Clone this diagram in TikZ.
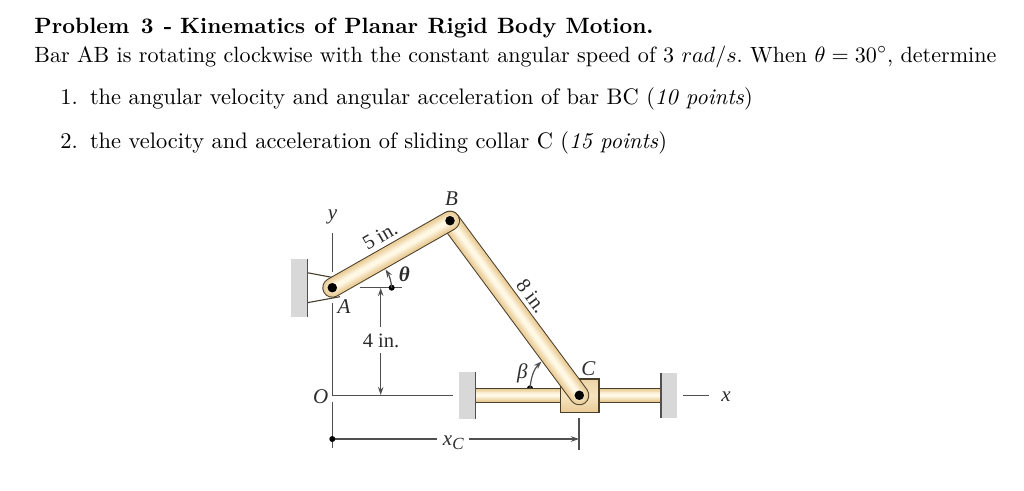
\documentclass[tikz,border=0pt]{standalone}
\usepackage{fontspec}
\usetikzlibrary{arrows.meta}
\newfontfamily\figfont{Liberation Serif}
\definecolor{barline}{RGB}{72,62,44}
\definecolor{bartan}{RGB}{234,204,150}
\definecolor{barlight}{RGB}{255,248,228}
\definecolor{wallgray}{RGB}{216,216,216}
\definecolor{dimgray}{RGB}{80,80,80}
\definecolor{figtext}{RGB}{45,45,45}
\newcommand{\gradbar}[4]{%
  \draw[line width=#3pt,color=barline,line cap=#4] #1 -- #2;
  \foreach \f/\m in {0.90/0,0.80/12,0.70/25,0.60/40,0.50/55,0.40/70,0.30/85,0.20/100}{%
    \draw[line width={#3*\f*1pt},color=barlight!\m!bartan,line cap=#4] #1 -- #2;}%
}
\tikzset{
  wall/.style={fill=wallgray,draw=none},
  walledge/.style={draw=dimgray,line width=1.5pt},
  dimline/.style={draw=dimgray,line width=1.2pt},
  dimarrow/.style={dimline,-{Stealth[length=8pt,width=5.5pt,fill=black]}},
  pin/.style={circle,fill=black,inner sep=0pt,minimum size=#1},
  figlabel/.style={font=\figfont\fontsize{20.5}{22}\selectfont,text=figtext,inner sep=0pt},
  figital/.style={font=\figfont\itshape\fontsize{21}{22}\selectfont,text=figtext,inner sep=0pt},
  prose/.style={anchor=base west,inner sep=0pt,text=black},
}
\begin{document}
\begin{tikzpicture}[x=1pt,y=-1pt]
\useasboundingbox[fill=white] (0,0) rectangle (1024,490);
% text
\node[prose,scale=2.217] (title) at (34,33) {\bfseries\spaceskip=4.2pt Problem\hspace{5.2pt}3\hspace{4.6pt}-\hspace{3.6pt}Kinematics of Planar Rigid Body Motion.};
\node[prose,scale=2.208] (line) at (34,62) {Bar AB is rotating clockwise with the constant angular speed of 3 $rad/s$.\ When $\theta=30^\circ$, determine};
\node[prose,scale=2.245] (itema) at (60,104) {1.\hspace{5.4pt}the angular velocity and angular acceleration of bar BC (\textit{10 points})};
\node[prose,scale=2.245] (itemb) at (60,148) {2.\hspace{5.4pt}the velocity and acceleration of sliding collar C (\textit{15 points})};
% key points
\coordinate (A) at (332.3,287.7);
\coordinate (B) at (450,220.7);
\coordinate (C) at (579.3,395.3);
\coordinate (O) at (332.3,395.3);
\coordinate (yt) at (332.3,233.3);
\coordinate (yu) at (332.3,272);
\coordinate (yl) at (332.3,303.3);
\coordinate (yb) at (332.3,401.7);
\coordinate (yend) at (332.3,448.3);
\coordinate (Oe) at (453.3,395.3);
\coordinate (xd) at (332.3,439);
\coordinate (xa) at (436.7,439);
\coordinate (xb) at (469.3,439);
\coordinate (xc) at (579,439);
\coordinate (tt) at (579,417.7);
\coordinate (tb) at (579,450);
\coordinate (hl) at (360,287.7);
\coordinate (hr) at (402.3,287.7);
\coordinate (d1) at (380.7,327.3);
\coordinate (d1e) at (380.7,288);
\coordinate (d2) at (380.7,353.3);
\coordinate (d2e) at (380.7,395);
\coordinate (th) at (391.7,287.7);
\coordinate (the) at (385.5,269.5);
\coordinate (be) at (530,388.3);
\coordinate (bee) at (541.5,361.5);
\coordinate (rl) at (475.7,395.3);
\coordinate (rr) at (661,395.3);
\coordinate (xl) at (683.3,395.7);
\coordinate (xr) at (709.3,395.7);
% dimension and axis lines
\draw[dimline] (yt) -- (yu);
\draw[dimline] (yl) -- (O) -- (Oe);
\draw[dimline] (yb) -- (yend);
\draw[dimline] (xd) -- (xa);
\draw[dimarrow] (xb) -- (xc);
\draw[dimline] (tt) -- (tb);
\draw[dimline] (hl) -- (hr);
\draw[dimarrow] (d1) -- (d1e);
\draw[dimarrow] (d2) -- (d2e);
\draw[dimline] (xl) -- (xr);
\node[pin=6pt] (xdot) at (xd) {};
\node[pin=6pt] (thdot) at (th) {};
\node[pin=6pt] (bedot) at (be) {};
\draw[dimarrow] (th) .. controls (391,280) and (389,275) .. (the);
\draw[dimarrow] (be) .. controls (531,377) and (534,369) .. (bee);
% clevis
\fill[fill=white] (307.3,272.7) -- (331.7,277.3) -- (340,296.7) -- (307.3,302.7) -- cycle;
\draw[draw=barline,line width=1.1pt] (307.3,272.7) -- (331.7,277.3);
\draw[draw=barline,line width=1.1pt] (307.3,302.7) -- (340,296.7);
% walls
\fill[wall] (290.7,259.3) rectangle (307.3,316.7);
\draw[walledge] (307.3,259.3) -- (307.3,316.7);
% slide rod
\gradbar{(rl)}{(rr)}{14.5}{butt}
\fill[wall] (459.3,372.3) rectangle (475.7,418.7);
\draw[walledge] (475.7,372.3) -- (475.7,418.7);
\fill[wall] (661,372.7) rectangle (677.3,418.3);
\draw[walledge] (661,372.7) -- (661,418.3);
% collar
\shade[top color=bartan!85!white,bottom color=bartan,middle color=barlight!55!bartan,draw=barline,line width=1.1pt] (560.3,379) rectangle (599,412.3);
% bars
\gradbar{(B)}{(C)}{20}{round}
\gradbar{(A)}{(B)}{20}{round}
% pins
\node[pin=9.5pt] (pinA) at (A) {};
\node[pin=9.5pt] (pinB) at (B) {};
\node[pin=9.5pt] (pinC) at (C) {};
% labels
\node[figital] (lA) at (344,306.7) {A};
\node[figital] (lB) at (451.5,198.5) {B};
\node[figital] (lC) at (588.3,368.7) {C};
\node[figital] (lO) at (320.7,396.7) {O};
\node[figital] (ly) at (332.5,217) {y};
\node[figital] (lx) at (726,397) {x};
\node[figlabel,rotate=30] (l5) at (380,236) {5 in.};
\node[figlabel,rotate=-53.5] (l8) at (531.5,296) {8 in.};
\node[figlabel] (l4) at (381,340.7) {4 in.};
\node[figital,font=\figfont\bfseries\itshape\fontsize{21}{22}\selectfont] (lth) at (404.3,274.3) {\symbol{"03B8}};
\node[figital] (lbe) at (522.3,373.3) {\symbol{"03B2}};
\node[figital] (lxc) at (453.3,442.7) {x\raisebox{-4pt}{\fontsize{17}{17}\selectfont C}};
\end{tikzpicture}
\end{document}
